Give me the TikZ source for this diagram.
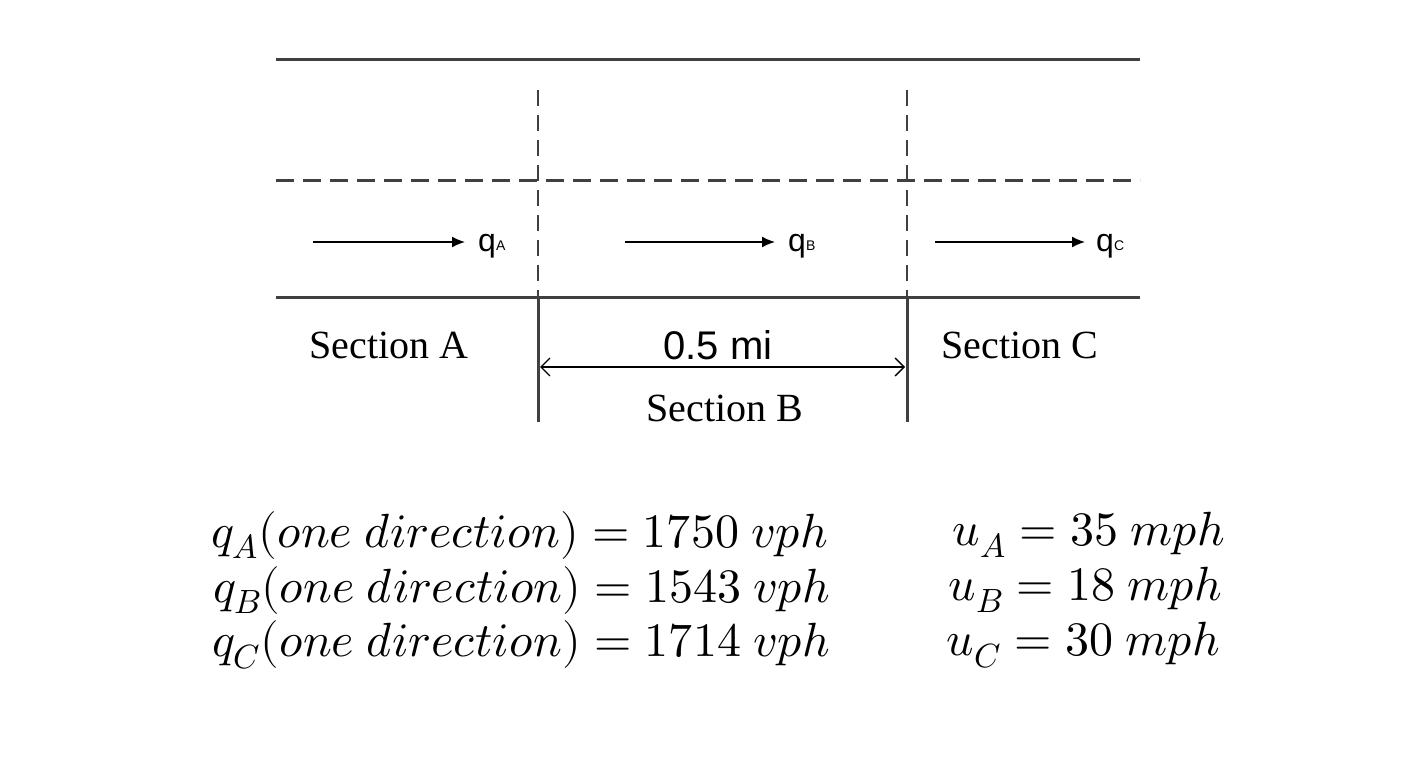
\documentclass[tikz,border=0pt]{standalone}
\usepackage{fontspec}
\usepackage{unicode-math}
\setmainfont{Liberation Serif}
\setmathfont{Latin Modern Math}
\newfontfamily\sansf{Liberation Sans}
\usetikzlibrary{arrows.meta}
\begin{document}
\begin{tikzpicture}[x=1pt,y=-1pt,
  road/.style={line width=3pt,draw=black!75},
  lane/.style={line width=3pt,draw=black!75,dash pattern=on 18pt off 9pt},
  sep/.style={line width=2.2pt,draw=black!75,dash pattern=on 16pt off 9pt},
  flow/.style={line width=1.5pt,-{Latex[length=13pt,width=11pt]}},
  lbl/.style={inner sep=0pt,font=\fontsize{40}{44}\selectfont},
  ql/.style={inner sep=0pt,font=\fontsize{32}{36}\selectfont\sansf,anchor=west},
  eq/.style={inner sep=0pt,font=\fontsize{48}{52}\selectfont}]
\useasboundingbox (0,0) rectangle (1410,776);
\draw[road] (276,60) -- (1140,60);
\draw[lane] (276,180) -- (1140,180);
\draw[road] (276,297) -- (1140,297);
\coordinate (v1t) at (538,90); \coordinate (v1m) at (538,297); \coordinate (v1b) at (538,422);
\coordinate (v2t) at (907,90); \coordinate (v2m) at (907,297); \coordinate (v2b) at (907,422);
\draw[sep] (v1t) -- (v1m); \draw[road] (v1m) -- (v1b);
\draw[sep] (v2t) -- (v2m); \draw[road] (v2m) -- (v2b);
\coordinate (a1) at (313,242); \coordinate (a2) at (465,242);
\coordinate (b1) at (625,242); \coordinate (b2) at (775,242);
\coordinate (c1) at (935,242); \coordinate (c2) at (1085,242);
\draw[flow] (a1) -- (a2); \draw[flow] (b1) -- (b2); \draw[flow] (c1) -- (c2);
\node[ql] (qa) at (478,246) {q\raisebox{1pt}{\fontsize{14}{14}\selectfont A}};
\node[ql] (qb) at (788,246) {q\raisebox{1pt}{\fontsize{14}{14}\selectfont B}};
\node[ql] (qc) at (1096,246) {q\raisebox{1pt}{\fontsize{14}{14}\selectfont C}};
\node[lbl] (sa) at (389,345) {Section A};
\node[lbl] (sc) at (1020,345) {Section C};
\node[lbl] (sb) at (725,408) {Section B};
\node[lbl] (d) at (718,345) {\sansf 0.5 mi};
\coordinate (d1) at (540,367); \coordinate (d2) at (905,367);
\draw[line width=1.3pt,{Straight Barb[length=9pt]}-{Straight Barb[length=9pt]}] (d1) -- (d2);
\node[eq,anchor=east] (e1) at (828,535) {$q_A(\symit{one\ direction}) = 1750\ \symit{vph}$};
\node[eq,anchor=east] (e2) at (830,590) {$q_B(\symit{one\ direction}) = 1543\ \symit{vph}$};
\node[eq,anchor=east] (e3) at (830,645) {$q_C(\symit{one\ direction}) = 1714\ \symit{vph}$};
\node[eq,anchor=east] (f1) at (1225,535) {$u_A = 35\ \symit{mph}$};
\node[eq,anchor=east] (f2) at (1222,590) {$u_B = 18\ \symit{mph}$};
\node[eq,anchor=east] (f3) at (1220,645) {$u_C = 30\ \symit{mph}$};
\end{tikzpicture}
\end{document}
